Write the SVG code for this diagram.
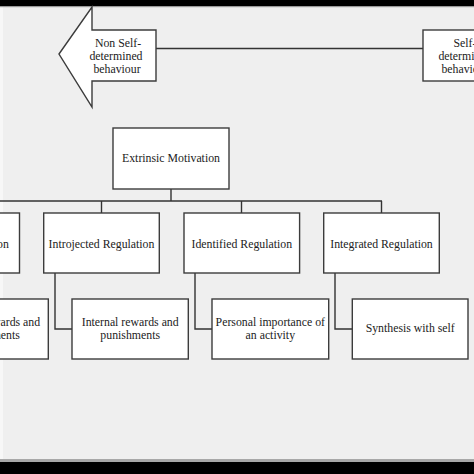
<svg xmlns="http://www.w3.org/2000/svg" width="474" height="474" viewBox="0 0 474 474">
<style>
.box{fill:#ffffff;stroke:#3c3c3c;stroke-width:1.4}
.conn{fill:none;stroke:#333333;stroke-width:1.4}
.t{font-family:"Liberation Serif","Times New Roman",serif;font-size:11.8px;fill:#222222;text-anchor:middle}
</style>
<rect x="0" y="0" width="474" height="474" fill="#efefef"/>
<rect x="0" y="6" width="3" height="454" fill="#f7f7f7"/>
<rect x="0" y="0" width="474" height="6" fill="#000000"/>
<rect x="0" y="6" width="474" height="1.2" fill="#9a9a9a"/>
<rect x="0" y="459" width="474" height="3" fill="#a8a8a8"/>
<rect x="0" y="462" width="474" height="12" fill="#000000"/>

<g id="connectors">
  <line class="conn" x1="156" y1="48.5" x2="423" y2="48.5"/>
  <polyline class="conn" points="171,189 171,201"/>
  <line class="conn" x1="-10" y1="201" x2="382" y2="201"/>
  <line class="conn" x1="101.5" y1="201" x2="101.5" y2="213"/>
  <line class="conn" x1="241.5" y1="201" x2="241.5" y2="213"/>
  <line class="conn" x1="381.5" y1="201" x2="381.5" y2="213"/>
  <polyline class="conn" points="55,273 55,329 72,329"/>
  <polyline class="conn" points="195,273 195,329 212,329"/>
  <polyline class="conn" points="335,273 335,329 352,329"/>
</g>

<g id="non-self-determined">
  <polygon class="box" points="59,54 92,7 92,30 156,30 156,81 92,81 92,107"/>
  <text class="t" x="118" y="47">Non Self-</text>
  <text class="t" x="116" y="60">determined</text>
  <text class="t" x="117" y="73">behaviour</text>
</g>

<g id="self-determined">
  <rect class="box" x="423" y="30" width="84" height="51"/>
  <text class="t" x="465" y="47">Self-</text>
  <text class="t" x="465" y="60">determined</text>
  <text class="t" x="465" y="73">behaviour</text>
</g>

<g id="extrinsic">
  <rect class="box" x="113" y="128" width="116" height="61"/>
  <text class="t" x="171" y="162">Extrinsic Motivation</text>
</g>

<g id="external-regulation">
  <rect class="box" x="-96" y="213" width="115.5" height="60"/>
  <text class="t" x="-38.5" y="248">External Regulation</text>
</g>
<g id="introjected-regulation">
  <rect class="box" x="43.7" y="213" width="115.6" height="60"/>
  <text class="t" x="101.5" y="248">Introjected Regulation</text>
</g>
<g id="identified-regulation">
  <rect class="box" x="184" y="213" width="115.6" height="60"/>
  <text class="t" x="241.8" y="248">Identified Regulation</text>
</g>
<g id="integrated-regulation">
  <rect class="box" x="323.7" y="213" width="115.6" height="60"/>
  <text class="t" x="381.5" y="248">Integrated Regulation</text>
</g>

<g id="external-rewards">
  <rect class="box" x="-68" y="299" width="116.3" height="60"/>
  <text class="t" x="-10" y="326">External rewards and</text>
  <text class="t" x="-10" y="339">punishments</text>
</g>
<g id="internal-rewards">
  <rect class="box" x="72" y="299" width="116.3" height="60"/>
  <text class="t" x="130.2" y="326">Internal rewards and</text>
  <text class="t" x="130.2" y="339">punishments</text>
</g>
<g id="personal-importance">
  <rect class="box" x="212" y="299" width="116.7" height="60"/>
  <text class="t" x="270.3" y="326">Personal importance of</text>
  <text class="t" x="270.3" y="339">an activity</text>
</g>
<g id="synthesis">
  <rect class="box" x="352.3" y="299" width="115.7" height="60"/>
  <text class="t" x="410.2" y="332">Synthesis with self</text>
</g>
</svg>
